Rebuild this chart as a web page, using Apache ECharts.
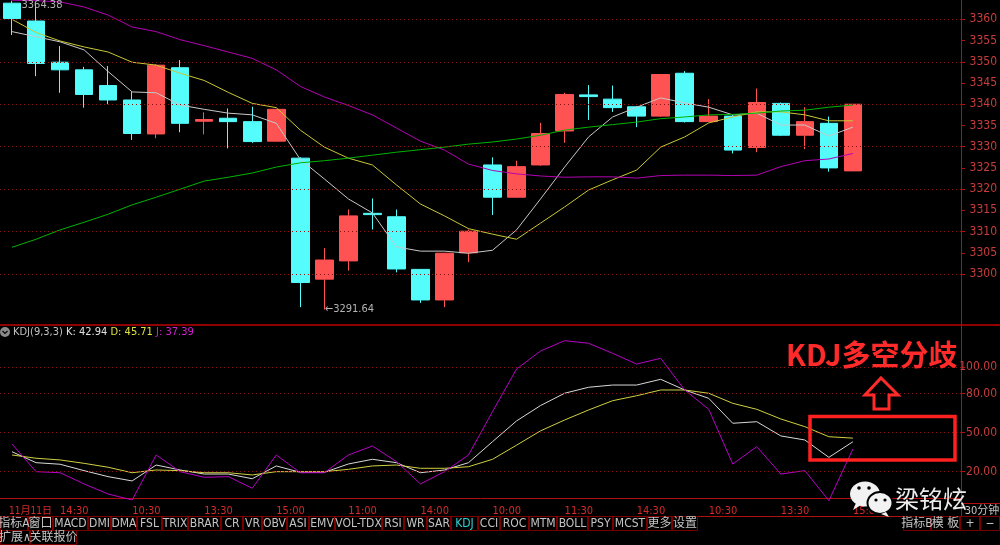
<!DOCTYPE html>
<html lang="zh-CN">
<head>
<meta charset="UTF-8">
<title>KDJ 30分钟</title>
<style>
    html, body, #container { margin: 0; padding: 0; width: 100%; height: 100%; background: #000; }
</style>
</head>
<body>
<div id="container"></div>
<script src="https://cdn.jsdelivr.net/npm/echarts@6/dist/echarts.min.js"></script>
<script>
// ---- data (30 minute bars) ----
var timeLabels = ['11月11日', '', '14:30', '', '', '10:30', '', '', '13:30', '', '', '15:00',
    '', '', '11:00', '', '', '14:00', '', '', '10:00', '', '', '11:30',
    '', '', '14:30', '', '', '10:30', '', '', '13:30', '', '', '15:00'];

var openP = [3363.8, 3359.6, 3349.9, 3348.1, 3344.4, 3341.0, 3333.0, 3348.6, 3336.0, 3336.7, 3335.9, 3331.3,
    3327.3, 3298.8, 3303.1, 3314.3, 3313.5, 3301.1, 3293.9, 3305.0, 3325.7, 3318.1, 3325.7, 3333.7,
    3342.2, 3341.2, 3339.4, 3337.2, 3347.3, 3335.9, 3337.2, 3329.8, 3340.2, 3332.7, 3335.5, 3324.3];
var closeP = [3360.2, 3349.6, 3348.1, 3342.3, 3341.0, 3333.1, 3349.2, 3335.5, 3336.4, 3335.9, 3331.2, 3338.8,
    3298.0, 3303.3, 3313.7, 3314.0, 3301.2, 3293.9, 3304.9, 3310.1, 3318.1, 3325.3, 3333.1, 3342.3,
    3341.8, 3339.2, 3337.2, 3347.0, 3335.9, 3337.2, 3329.2, 3340.4, 3332.7, 3335.9, 3325.0, 3340.0];
var lowP = [3356.3, 3346.6, 3342.7, 3339.2, 3340.0, 3331.6, 3332.0, 3333.4, 3332.9, 3329.6, 3330.9, 3331.2,
    3292.2, 3291.64, 3300.8, 3310.5, 3300.4, 3293.2, 3292.2, 3302.8, 3313.9, 3318.0, 3325.5, 3330.9,
    3336.3, 3338.2, 3334.6, 3337.0, 3335.7, 3335.8, 3328.4, 3328.7, 3332.5, 3329.4, 3324.1, 3324.3];
var highP = [3364.38, 3363.8, 3353.7, 3348.8, 3349.0, 3342.9, 3349.4, 3350.4, 3338.1, 3339.0, 3339.4, 3338.9,
    3327.5, 3306.1, 3315.2, 3317.8, 3315.2, 3301.1, 3305.0, 3310.5, 3327.5, 3326.7, 3335.6, 3342.7,
    3344.5, 3344.4, 3339.5, 3347.1, 3347.8, 3341.2, 3337.5, 3343.7, 3340.4, 3339.3, 3337.1, 3340.0];

var ma5 = [3357.1, 3355.9, 3354.7, 3352.8, 3347.7, 3342.9, 3342.7, 3339.8, 3338.8, 3337.9, 3337.5, 3335.5,
    3327.0, 3322.4, 3317.7, 3314.4, 3306.4, 3305.4, 3305.4, 3304.9, 3305.6, 3310.4, 3317.7, 3325.2,
    3332.3, 3337.0, 3339.3, 3341.5, 3340.3, 3339.3, 3337.5, 3337.9, 3335.1, 3335.1, 3332.5, 3334.6];
var ma10 = [3360.0, 3356.9, 3354.9, 3353.5, 3352.3, 3349.9, 3349.2, 3347.3, 3345.6, 3342.8, 3340.2, 3339.2,
    3333.9, 3329.9, 3327.3, 3325.7, 3321.0, 3316.5, 3313.7, 3310.7, 3309.4, 3308.2, 3312.0, 3315.8,
    3319.8, 3322.2, 3324.5, 3329.9, 3332.3, 3335.6, 3337.0, 3338.2, 3338.2, 3337.5, 3336.1, 3336.1];
var ma20 = [3364.5, 3364.4, 3364.1, 3362.9, 3361.0, 3358.2, 3357.1, 3355.2, 3353.8, 3352.3, 3350.8, 3348.1,
    3344.2, 3341.7, 3339.7, 3337.5, 3334.4, 3331.3, 3329.2, 3325.9, 3324.4, 3323.6, 3323.1, 3322.8,
    3322.9, 3322.9, 3322.6, 3323.2, 3323.3, 3323.3, 3323.2, 3323.3, 3325.3, 3326.7, 3327.1, 3328.4];
var ma60 = [3306.3, 3308.2, 3310.4, 3312.2, 3314.1, 3316.3, 3318.1, 3320.0, 3321.9, 3322.8, 3323.8, 3325.2,
    3326.2, 3326.7, 3327.3, 3328.0, 3328.7, 3329.3, 3329.9, 3330.6, 3331.1, 3331.8, 3332.7, 3333.9,
    3334.6, 3335.2, 3335.8, 3336.6, 3337.0, 3337.5, 3337.6, 3337.9, 3338.4, 3338.6, 3339.3, 3339.8];

var kLine = [35.3, 26.9, 25.7, 20.8, 16.2, 12.9, 25.1, 21.3, 18.2, 18.2, 14.6, 24.4,
    19.5, 19.5, 25.9, 29.5, 26.9, 19.2, 21.3, 26.9, 43.0, 58.9, 70.7, 80.1,
    84.7, 86.4, 86.4, 90.8, 82.6, 76.2, 57.1, 58.3, 47.4, 44.3, 31.0, 42.94];
var dLine = [32.8, 30.3, 29.0, 26.4, 23.4, 19.2, 21.3, 20.8, 19.2, 19.2, 17.5, 20.0,
    20.0, 20.0, 21.8, 24.4, 25.1, 22.6, 22.6, 23.8, 29.5, 40.3, 51.3, 59.6,
    67.3, 74.4, 78.2, 82.6, 82.6, 80.1, 72.4, 67.8, 60.4, 54.5, 46.8, 45.71];
var jLine = [41.2, 20.0, 19.2, 10.6, 2.9, -1.7, 32.8, 20.0, 15.7, 16.2, 7.3, 32.8,
    19.2, 19.2, 32.8, 39.7, 27.7, 10.6, 20.0, 32.8, 66.0, 98.7, 112.5, 120.4,
    118.4, 110.7, 102.5, 106.9, 82.6, 67.8, 25.9, 39.2, 18.2, 20.8, -2.2, 37.39];

var priceTicks = [3300, 3305, 3310, 3315, 3320, 3325, 3330, 3335, 3340, 3345, 3350, 3355, 3360];
var priceGrid = [3300, 3310, 3320, 3330, 3340, 3350, 3360];
var kdjTicks = [20, 50, 80, 100];

var tabsA = ['指标A', '窗口', 'MACD', 'DMI', 'DMA', 'FSL', 'TRIX', 'BRAR', 'CR', 'VR', 'OBV', 'ASI', 'EMV',
    'VOL-TDX', 'RSI', 'WR', 'SAR', 'KDJ', 'CCI', 'ROC', 'MTM', 'BOLL', 'PSY', 'MCST', '更多', '设置'];
var tabsB = ['扩展∧', '关联报价'];
var tabsC = ['指标B', '模 板', '+', '−'];

// ---- layout ----
var tabEdgesA = [0, 28, 53, 88, 111, 137, 162, 188, 221, 243, 262, 287, 309, 335, 382, 404, 427, 451, 478, 500,
    529, 557, 588, 613, 647, 672, 698];
var tabEdgesB = [0, 30, 77];
var tabEdgesC = [903, 931, 960, 980, 1000];

var FONT = '"Liberation Sans", "Noto Sans CJK SC", sans-serif';
var NARROW = '"Liberation Sans Narrow", "DejaVu Sans Condensed", "Noto Sans CJK SC", sans-serif';
var RED = '#b01010';
var slots = 40; // the last four slots stay empty

var cats = [];
for (var i = 0; i < slots; i++) cats.push(timeLabels[i] || '');

var candles = openP.map(function (o, i) {
    return [o, closeP[i], lowP[i], highP[i]];
});

function showLabel(idx) {
    return !!timeLabels[idx];
}

function gridLines(values) {
    return {
        silent: true,
        symbol: ['none', 'none'],
        label: { show: false },
        lineStyle: { color: '#8c1010', type: [1, 3], width: 1 },
        data: values.map(function (v) { return { yAxis: v }; })
    };
}

function tabRow(labels, edges, y, h) {
    var out = [];
    labels.forEach(function (t, i) {
        out.push({
            type: 'rect', z: 50,
            shape: { x: edges[i] + 0.5, y: y + 0.5, width: edges[i + 1] - edges[i] - 1, height: h },
            style: { fill: '#000', stroke: '#7a0000', lineWidth: 1 }
        });
        out.push({
            type: 'text', z: 51,
            style: {
                text: t, x: (edges[i] + edges[i + 1]) / 2, y: y + h / 2 + 1,
                align: 'center', verticalAlign: 'middle',
                fill: t === 'KDJ' ? '#30d0d0' : '#c4c4c4', font: '12px ' + NARROW
            }
        });
    });
    return out;
}

var last = kLine.length - 1;
var header = '{n|KDJ(9,3,3)} {k|K: ' + kLine[last].toFixed(2) + '} {d|D: ' + dLine[last].toFixed(2) +
    '} {j|J: ' + jLine[last].toFixed(2) + '}';

var graphics = [
    // panel frame
    { type: 'line', shape: { x1: 0, y1: 325, x2: 1000, y2: 325 }, style: { stroke: '#900000', lineWidth: 2 } },
    { type: 'line', shape: { x1: 961.5, y1: 0, x2: 961.5, y2: 530 }, style: { stroke: RED, lineWidth: 1 } },
    { type: 'line', shape: { x1: 0, y1: 516.5, x2: 1000, y2: 516.5 }, style: { stroke: RED, lineWidth: 1 } },
    { type: 'line', shape: { x1: 961, y1: 503.5, x2: 1000, y2: 503.5 }, style: { stroke: RED, lineWidth: 1 } },
    { type: 'text', style: { text: '30分钟', x: 982, y: 511, align: 'center', verticalAlign: 'middle', fill: '#c4c4c4', font: '11px ' + NARROW } },
    // KDJ header
    { type: 'circle', shape: { cx: 5, cy: 332, r: 5 }, style: { fill: '#8a8a8a' } },
    { type: 'polyline', shape: { points: [[2.5, 331], [5, 333.5], [7.5, 331]] }, style: { stroke: '#000', lineWidth: 1.2 } },
    {
        type: 'text',
        style: {
            text: header, x: 13, y: 332, verticalAlign: 'middle', font: '11px ' + NARROW,
            rich: {
                n: { fill: '#c0c0c0', font: '11px ' + NARROW },
                k: { fill: '#e0e0e0', font: '11px ' + NARROW },
                d: { fill: '#e0e040', font: '11px ' + NARROW },
                j: { fill: '#d020d0', font: '11px ' + NARROW }
            }
        }
    },
    // annotation
    { type: 'text', z: 60, style: { text: 'KDJ多空分歧', x: 786, y: 355, verticalAlign: 'middle', fill: '#ff2a2a', font: 'bold 29px "Noto Sans CJK SC", sans-serif' } },
    { type: 'polygon', z: 60, shape: { points: [[881, 378], [898, 395], [889, 395], [889, 409], [874, 409], [874, 395], [865, 395]] },
      style: { fill: 'none', stroke: '#ff2a2a', lineWidth: 3 } },
    { type: 'rect', z: 60, shape: { x: 810, y: 416.5, width: 145, height: 43.5 }, style: { fill: 'none', stroke: '#ff2020', lineWidth: 3.5 } },
    // watermark
    { type: 'ellipse', z: 70, shape: { cx: 865, cy: 494, rx: 15, ry: 12.5 }, style: { fill: '#f2f2f2' } },
    { type: 'polygon', z: 70, shape: { points: [[856, 503], [853, 510], [861, 505]] }, style: { fill: '#f2f2f2' } },
    { type: 'ellipse', z: 71, shape: { cx: 880, cy: 503, rx: 12.5, ry: 11 }, style: { fill: '#f2f2f2', stroke: '#000', lineWidth: 2 } },
    { type: 'polygon', z: 71, shape: { points: [[886, 512], [889, 517], [881, 514]] }, style: { fill: '#f2f2f2' } },
    { type: 'circle', z: 72, shape: { cx: 859, cy: 488, r: 1.8 }, style: { fill: '#000' } },
    { type: 'circle', z: 72, shape: { cx: 869, cy: 488, r: 1.8 }, style: { fill: '#000' } },
    { type: 'circle', z: 72, shape: { cx: 876, cy: 500, r: 1.6 }, style: { fill: '#000' } },
    { type: 'circle', z: 72, shape: { cx: 885, cy: 500, r: 1.6 }, style: { fill: '#000' } },
    { type: 'text', z: 72, style: { text: '梁铭炫', x: 895, y: 499, verticalAlign: 'middle', fill: '#ececec', font: '24px "Noto Sans CJK SC", sans-serif' } }
].concat(tabRow(tabsA, tabEdgesA, 516, 14), tabRow(tabsB, tabEdgesB, 530, 14), tabRow(tabsC, tabEdgesC, 516, 14));

var chart = echarts.init(document.getElementById('container'));

var option = {
    backgroundColor: '#000',
    animation: false,
    textStyle: { fontFamily: FONT },
    grid: [
        { left: -4, right: 39, top: 0, height: 325 },
        { left: -4, right: 39, top: 335, height: 168 }
    ],
    xAxis: [
        {
            type: 'category', gridIndex: 0, data: cats,
            axisLine: { show: false }, axisTick: { show: false }, axisLabel: { show: false }, splitLine: { show: false }
        },
        {
            type: 'category', gridIndex: 1, data: cats,
            axisLine: { lineStyle: { color: RED } },
            axisTick: { alignWithLabel: true, interval: showLabel, length: 12, lineStyle: { color: RED } },
            axisLabel: {
                interval: showLabel, align: 'left', margin: 3, color: '#d42a2a', fontSize: 11, fontFamily: NARROW,
                showMinLabel: true, hideOverlap: false,
                formatter: function (v, idx) { return idx === 0 ? '{s|' + v + '}' : v; },
                rich: { s: { color: '#d42a2a', fontSize: 10, fontFamily: NARROW, padding: [0, 0, 0, -3] } }
            },
            splitLine: { show: false }
        },
        {
            type: 'category', gridIndex: 1, data: cats,
            axisLine: { show: false },
            axisTick: { alignWithLabel: true, interval: 0, length: 2, lineStyle: { color: RED } },
            axisLabel: { show: false }, splitLine: { show: false }
        }
    ],
    yAxis: [
        {
            type: 'value', gridIndex: 0, position: 'right', min: 3288, max: 3364.55,
            splitLine: { show: false },
            axisLine: { show: true, lineStyle: { color: RED } },
            axisTick: { show: true, customValues: priceTicks, length: 4, lineStyle: { color: RED } },
            axisLabel: {
                customValues: priceTicks, align: 'right', margin: 36, color: '#c83c3c', fontSize: 12, fontFamily: NARROW,
                formatter: function (v) { return String(v); }
            }
        },
        {
            type: 'value', gridIndex: 1, position: 'right', min: -4, max: 124.75,
            splitLine: { show: false },
            axisLine: { show: true, lineStyle: { color: RED } },
            axisTick: { show: true, customValues: kdjTicks, length: 4, lineStyle: { color: RED } },
            axisLabel: {
                customValues: kdjTicks, align: 'right', margin: 36, color: '#c83c3c', fontSize: 12, fontFamily: NARROW,
                formatter: function (v) { return v.toFixed(2); }
            }
        }
    ],
    series: [
        {
            type: 'candlestick', xAxisIndex: 0, yAxisIndex: 0, data: candles, barWidth: 18,
            itemStyle: { color: '#ff5252', color0: '#54fcfc', borderColor: '#ff5252', borderColor0: '#54fcfc', borderWidth: 1 },
            markLine: gridLines(priceGrid),
            markPoint: {
                symbol: 'circle', symbolSize: 1, silent: true,
                itemStyle: { color: 'rgba(0,0,0,0)' },
                label: { show: true, position: 'right', color: '#b4b4b4', fontSize: 11, fontFamily: NARROW },
                data: [
                    { coord: [0, highP[0]], label: { formatter: String(highP[0]), offset: [4, 4] } },
                    { coord: [13, lowP[13]], label: { formatter: '←' + lowP[13], offset: [-5, 0] } }
                ]
            }
        },
        { type: 'line', name: 'MA5', data: ma5, symbol: 'none', lineStyle: { color: '#c8c8c8', width: 1 } },
        { type: 'line', name: 'MA10', data: ma10, symbol: 'none', lineStyle: { color: '#c8c836', width: 1 } },
        { type: 'line', name: 'MA20', data: ma20, symbol: 'none', lineStyle: { color: '#b400b4', width: 1 } },
        { type: 'line', name: 'MA60', data: ma60, symbol: 'none', lineStyle: { color: '#00b400', width: 1 } },
        {
            type: 'line', name: 'K', xAxisIndex: 1, yAxisIndex: 1, data: kLine, symbol: 'none',
            lineStyle: { color: '#d8d8d8', width: 1 }, markLine: gridLines(kdjTicks)
        },
        { type: 'line', name: 'D', xAxisIndex: 1, yAxisIndex: 1, data: dLine, symbol: 'none', lineStyle: { color: '#d0d040', width: 1 } },
        { type: 'line', name: 'J', xAxisIndex: 1, yAxisIndex: 1, data: jLine, symbol: 'none', lineStyle: { color: '#b800c8', width: 1 } }
    ],
    graphic: graphics
};

chart.setOption(option);
</script>
</body>
</html>
